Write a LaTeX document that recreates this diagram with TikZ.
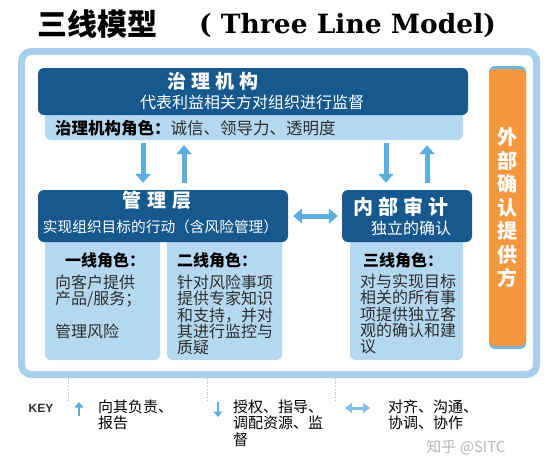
\documentclass[tikz,border=0pt]{standalone}
\usepackage{fontspec}
\setmainfont{Noto Sans CJK SC}
\setsansfont{Liberation Sans}
\newfontfamily\latserif{DejaVu Serif}
\usetikzlibrary{arrows.meta,calc}
\definecolor{dkblue}{HTML}{17598F}
\definecolor{ltblue}{HTML}{B4D8F0}
\definecolor{framec}{HTML}{A9D0EA}
\definecolor{arrc}{HTML}{5BAEDD}
\definecolor{keydbl}{HTML}{7CC0E4}
\definecolor{orangec}{HTML}{F5973F}
\definecolor{stripc}{HTML}{6DB6DF}
\definecolor{txtc}{HTML}{2E2E2E}
\definecolor{dotc}{HTML}{9BBBD0}
\definecolor{wmark}{HTML}{B8B8B8}
\begin{document}
\begin{tikzpicture}[x=1pt,y=-1pt,
  darkbox/.style={fill=dkblue, rounded corners=6pt, inner sep=0, draw=none},
  lightbox/.style={fill=ltblue, rounded corners=6pt, inner sep=0, draw=none},
  headtxt/.style={font=\fontsize{19}{19}\selectfont\bfseries, text=white, inner sep=0},
  subtxt/.style={font=\fontsize{16}{16}\selectfont, text=white, inner sep=0},
  bodytxt/.style={font=\fontsize{16}{16.2}\selectfont, text=txtc, inner sep=0, align=left, anchor=north west},
  roletxt/.style={font=\fontsize{16}{16}\selectfont\bfseries, text=black, inner sep=0, anchor=west},
  keytxt/.style={font=\fontsize{15}{16.5}\selectfont, text=black, inner sep=0, align=left, anchor=north west},
  bigarrow/.style={draw=arrc, line width=5pt, -{Triangle[width=15pt,length=9pt]}},
  keyarrow/.style={draw=arrc, line width=2.4pt, -{Triangle[width=9pt,length=5.5pt]}},
  dotline/.style={draw=dotc, dotted, line width=0.7pt}
]
\useasboundingbox (0,0) rectangle (553,469);
\fill[white] (0,0) rectangle (553,469);

% title
\node[anchor=west, inner sep=0, font=\fontsize{30}{30}\selectfont\bfseries] (title) at (37,24) {三线模型};
\node[anchor=base west, inner sep=0, font=\latserif\bfseries\fontsize{26.5}{26.5}\selectfont] (titleen) at (199,33) {( Three Line Model)};

% frame
\node[draw=framec, line width=7pt, fill=white, rounded corners=10pt, minimum width=515pt, minimum height=323pt, inner sep=0] (frame) at (279,213) {};

% governing body
\node[lightbox, minimum width=418pt, minimum height=35pt] (band) at (254,122.5) {};
\node[darkbox, minimum width=430pt, minimum height=47pt] (gov) at (253,91.5) {};
\node[headtxt] (govt) at (213,81) {治\kern5pt 理\kern5pt 机\kern5pt 构};
\node[subtxt] (govs) at (252,102) {代表利益相关方对组织进行监督};
\node[anchor=west, inner sep=0, font=\fontsize{16.5}{16.5}\selectfont, text=txtc] (bandt) at (55,128) {{\bfseries\color{black}治理机构角色：}诚信、领导力、透明度};

% light boxes under management / audit
\node[lightbox, minimum width=115pt, minimum height=135pt] (l1) at (102.5,292.5) {};
\node[lightbox, minimum width=115pt, minimum height=135pt] (l2) at (224.5,292.5) {};
\node[lightbox, minimum width=113pt, minimum height=135pt] (l3) at (406.5,292.5) {};

% management
\node[darkbox, minimum width=250pt, minimum height=52pt] (mgmt) at (163,216) {};
\node[headtxt] (mgmtt) at (157,200) {管\kern6pt 理\kern6pt 层};
\node[subtxt, font=\fontsize{14.7}{14.7}\selectfont] (mgmts) at (160.5,227) {实现组织目标的行动（含风险管理）};

% internal audit
\node[darkbox, minimum width=130pt, minimum height=52pt] (audit) at (407,216) {};
\node[headtxt, font=\fontsize{20}{20}\selectfont\bfseries] (auditt) at (400.5,207) {内\kern5pt 部\kern5pt 审\kern5pt 计};
\node[subtxt] (audits) at (411,228) {独立的确认};

% role texts
\node[roletxt] (r1) at (65,260) {一线角色：};
\node[bodytxt] (b1) at (55,275) {向客户提供\\产品/服务；\\[15pt]管理风险};
\node[roletxt] (r2) at (177,260) {二线角色：};
\node[bodytxt] (b2) at (177,275) {针对风险事项\\提供专家知识\\和支持，并对\\其进行监控与\\质疑};
\node[roletxt] (r3) at (363,260) {三线角色：};
\node[bodytxt] (b3) at (360,274) {对与实现目标\\相关的所有事\\项提供独立客\\观的确认和建\\议};

% external assurance
\node[fill=stripc, rounded corners=6pt, minimum width=37pt, minimum height=283pt, inner sep=0] (extb) at (507.5,207.5) {};
\node[fill=orangec, rounded corners=6pt, minimum width=37pt, minimum height=277pt, inner sep=0, text=white, align=center, font=\fontsize{20}{23.5}\selectfont\bfseries] (ext) at (507.5,207.5) {外\\部\\确\\认\\提\\供\\方};

% arrows
\coordinate (c1) at (143,0);
\coordinate (c2) at (184,0);
\coordinate (c3) at (386,0);
\coordinate (c4) at (427,0);
\draw[bigarrow, shorten <=3pt, shorten >=7pt] (c1 |- band.south) -- (c1 |- mgmt.north);
\draw[bigarrow, shorten <=7pt, shorten >=5pt] (c2 |- mgmt.north) -- (c2 |- band.south);
\draw[bigarrow, shorten <=3pt, shorten >=7pt] (c3 |- band.south) -- (c3 |- audit.north);
\draw[bigarrow, shorten <=7pt, shorten >=5pt] (c4 |- audit.north) -- (c4 |- band.south);
\draw[bigarrow, {Triangle[width=15pt,length=9pt]}-{Triangle[width=15pt,length=9pt]}, shorten <=5pt, shorten >=4pt] (mgmt.east) -- (audit.west);

% dotted lines below frame
\coordinate (d1) at (68,402);
\coordinate (d2) at (207,402);
\coordinate (d3) at (335,402);
\draw[dotline] (d1 |- frame.south) -- (d1);
\draw[dotline] (d2 |- frame.south) -- (d2);
\draw[dotline] (d3 |- frame.south) -- (d3);

% key
\node[inner sep=0, font=\sffamily\bfseries\fontsize{12}{12}\selectfont, text=txtc] (key) at (41,408) {KEY};
\coordinate (ku1) at (79,416);
\coordinate (ku2) at (79,402);
\draw[keyarrow] (ku1) -- (ku2);
\node[keytxt] (k1) at (98,399.5) {向其负责、\\报告};
\coordinate (kd1) at (218,402);
\coordinate (kd2) at (218,417);
\draw[keyarrow] (kd1) -- (kd2);
\node[keytxt] (k2) at (233,399.5) {授权、指导、\\调配资源、监\\督};
\coordinate (kb1) at (345,408);
\coordinate (kb2) at (370,408);
\draw[draw=keydbl, line width=3pt, {Triangle[width=10pt,length=7pt]}-{Triangle[width=10pt,length=7pt]}] (kb1) -- (kb2);
\node[keytxt] (k3) at (388,399.5) {对齐、沟通、\\协调、协作};

% watermark
\node[inner sep=0, font=\fontsize{15}{15}\selectfont, text=wmark] (wm) at (466,447) {知乎 @SITC};
\end{tikzpicture}
\end{document}
